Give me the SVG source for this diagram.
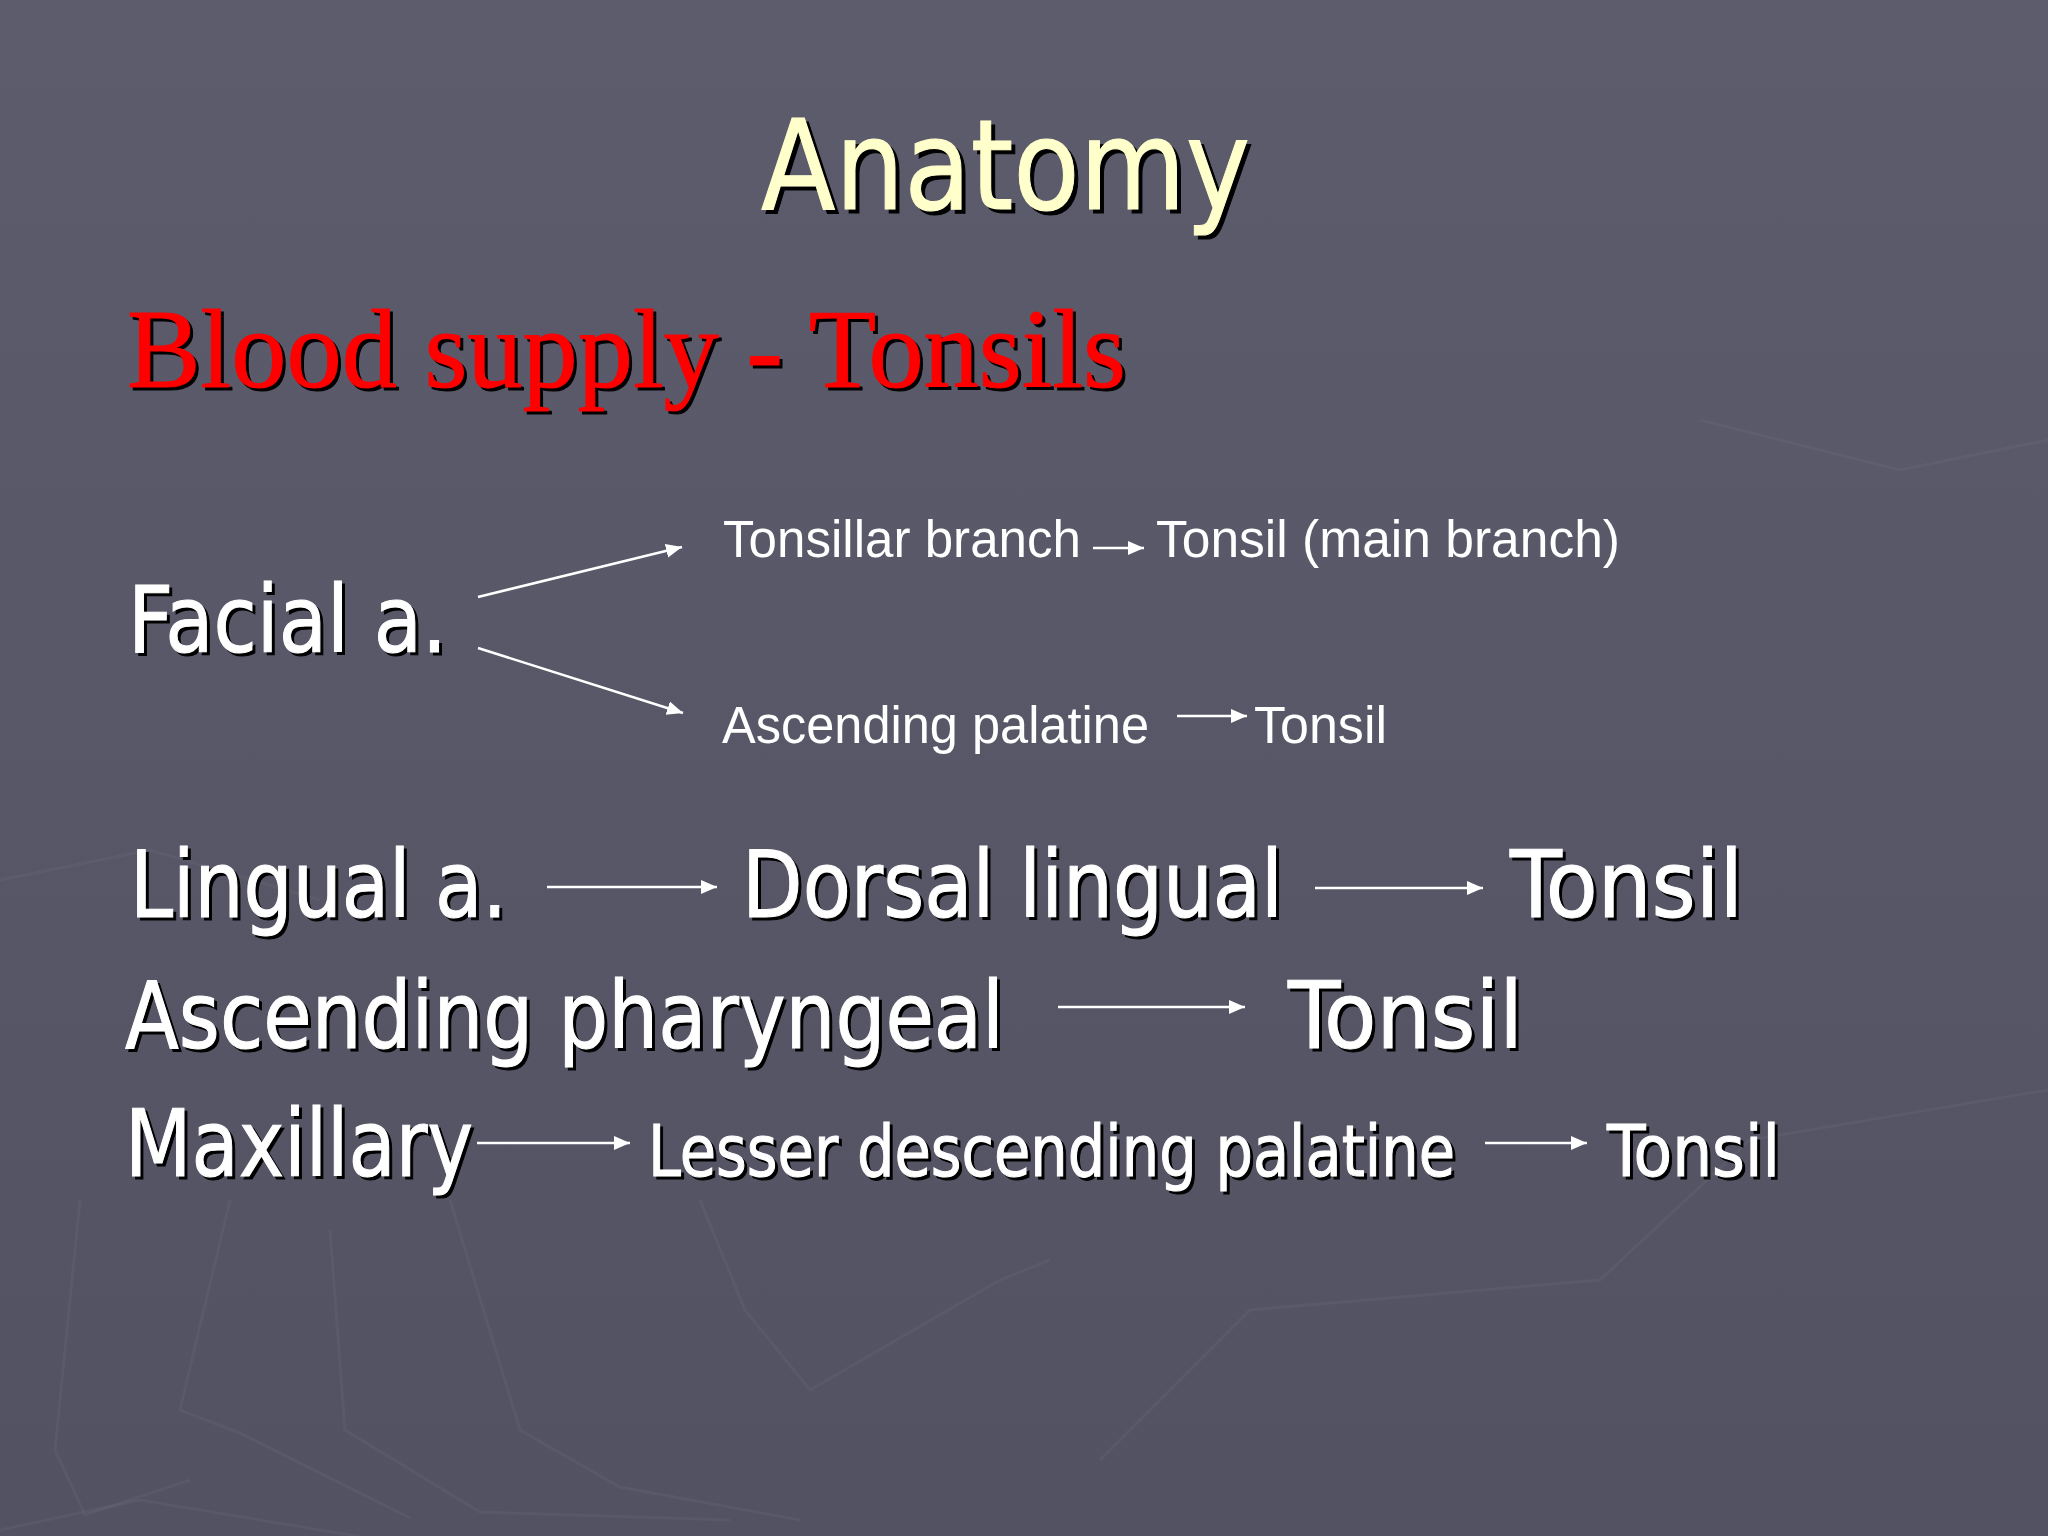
<svg xmlns="http://www.w3.org/2000/svg" width="2048" height="1536" viewBox="0 0 2048 1536">
<style>
.bg{fill:url(#bgGrad)}
.tex{fill:none;stroke:#ffffff;stroke-opacity:0.035;stroke-width:3}
.tah{font-family:"DejaVu Sans Condensed","DejaVu Sans",sans-serif}
.ari{font-family:"Liberation Sans",Arial,sans-serif;fill:#ffffff}
.ser{font-family:"Liberation Serif","Times New Roman",serif}
.big{font-size:92px}
.mid{font-size:71px}
.sh{fill:#000000;stroke:#000000;stroke-width:1}
.wh{fill:#ffffff;stroke:#ffffff;stroke-width:1}
.arr{stroke:#ffffff;stroke-width:2.5;fill:none;marker-end:url(#ah)}
</style>
<defs>
<linearGradient id="bgGrad" x1="0" y1="0" x2="0" y2="1">
<stop offset="0" stop-color="#5c5c6c"/>
<stop offset="1" stop-color="#525263"/>
</linearGradient>
<marker id="ah" markerUnits="userSpaceOnUse" markerWidth="18" markerHeight="16" refX="16" refY="8" orient="auto">
<path d="M0,1 L16,8 L0,15 Z" fill="#ffffff"/>
</marker>
</defs>
<rect class="bg" x="0" y="0" width="2048" height="1536"/>
<g id="texture">
<polyline class="tex" points="0,1530 140,1500 410,1545"/>
<polyline class="tex" points="80,1200 55,1450 85,1515 190,1480"/>
<polyline class="tex" points="230,1200 180,1410 240,1433 410,1518"/>
<polyline class="tex" points="330,1230 345,1430 480,1512 730,1520"/>
<polyline class="tex" points="450,1200 520,1430 620,1487 800,1520"/>
<polyline class="tex" points="700,1200 745,1310 810,1390 1000,1280 1050,1260"/>
<polyline class="tex" points="1100,1460 1250,1310 1600,1280 1750,1140 2048,1090"/>
<polyline class="tex" points="0,880 150,850 320,900"/>
<polyline class="tex" points="1700,420 1900,470 2048,440"/>
</g>
<g id="title">
<text class="tah" x="765" y="213" font-size="125" fill="#000000" stroke="#000000" stroke-width="1" textLength="489" lengthAdjust="spacingAndGlyphs">Anatomy</text>
<text class="tah" x="761" y="209" font-size="125" fill="#ffffcc" stroke="#ffffcc" stroke-width="1" textLength="489" lengthAdjust="spacingAndGlyphs">Anatomy</text>
</g>
<g id="subtitle">
<text class="ser" x="130" y="390" font-size="112" fill="#000000" stroke="#000000" stroke-width="1" textLength="999" lengthAdjust="spacingAndGlyphs">Blood supply - Tonsils</text>
<text class="ser" x="127" y="387" font-size="112" fill="#ff0000" stroke="#ff0000" stroke-width="1" textLength="999" lengthAdjust="spacingAndGlyphs">Blood supply - Tonsils</text>
</g>
<g id="facial">
<text class="tah big sh" x="131" y="655" textLength="319" lengthAdjust="spacingAndGlyphs">Facial a.</text>
<text class="tah big wh" x="128" y="652" textLength="319" lengthAdjust="spacingAndGlyphs">Facial a.</text>
</g>
<g id="tonsillar-branch">
<text class="ari" x="723" y="557" font-size="51" textLength="358" lengthAdjust="spacingAndGlyphs">Tonsillar branch</text>
</g>
<g id="tonsil-main">
<text class="ari" x="1156" y="557" font-size="51" textLength="464" lengthAdjust="spacingAndGlyphs">Tonsil (main branch)</text>
</g>
<g id="ascending-palatine">
<text class="ari" x="722" y="743" font-size="51" textLength="427" lengthAdjust="spacingAndGlyphs">Ascending palatine</text>
</g>
<g id="tonsil-ap">
<text class="ari" x="1254" y="743" font-size="51" textLength="133" lengthAdjust="spacingAndGlyphs">Tonsil</text>
</g>
<g id="lingual">
<text class="tah big sh" x="133" y="920" textLength="377" lengthAdjust="spacingAndGlyphs">Lingual a.</text>
<text class="tah big wh" x="130" y="917" textLength="377" lengthAdjust="spacingAndGlyphs">Lingual a.</text>
</g>
<g id="dorsal-lingual">
<text class="tah big sh" x="745" y="920" textLength="541" lengthAdjust="spacingAndGlyphs">Dorsal lingual</text>
<text class="tah big wh" x="742" y="917" textLength="541" lengthAdjust="spacingAndGlyphs">Dorsal lingual</text>
</g>
<g id="tonsil-dl">
<text class="tah big sh" x="1513" y="920" textLength="233" lengthAdjust="spacingAndGlyphs">Tonsil</text>
<text class="tah big wh" x="1510" y="917" textLength="233" lengthAdjust="spacingAndGlyphs">Tonsil</text>
</g>
<g id="ascending-pharyngeal">
<text class="tah big sh" x="128" y="1051" textLength="879" lengthAdjust="spacingAndGlyphs">Ascending pharyngeal</text>
<text class="tah big wh" x="125" y="1048" textLength="879" lengthAdjust="spacingAndGlyphs">Ascending pharyngeal</text>
</g>
<g id="tonsil-aph">
<text class="tah big sh" x="1291" y="1051" textLength="235" lengthAdjust="spacingAndGlyphs">Tonsil</text>
<text class="tah big wh" x="1288" y="1048" textLength="235" lengthAdjust="spacingAndGlyphs">Tonsil</text>
</g>
<g id="maxillary">
<text class="tah big sh" x="128" y="1179" textLength="348" lengthAdjust="spacingAndGlyphs">Maxillary</text>
<text class="tah big wh" x="125" y="1176" textLength="348" lengthAdjust="spacingAndGlyphs">Maxillary</text>
</g>
<g id="lesser-descending-palatine">
<text class="tah mid sh" x="651" y="1179" textLength="807" lengthAdjust="spacingAndGlyphs">Lesser descending palatine</text>
<text class="tah mid wh" x="648" y="1176" textLength="807" lengthAdjust="spacingAndGlyphs">Lesser descending palatine</text>
</g>
<g id="tonsil-ldp">
<text class="tah mid sh" x="1610" y="1179" textLength="173" lengthAdjust="spacingAndGlyphs">Tonsil</text>
<text class="tah mid wh" x="1607" y="1176" textLength="173" lengthAdjust="spacingAndGlyphs">Tonsil</text>
</g>
<g id="connectors">
<line class="arr" x1="478" y1="597" x2="682" y2="547"/>
<line class="arr" x1="478" y1="648" x2="683" y2="713"/>
<line class="arr" x1="1093" y1="548" x2="1144" y2="548"/>
<line class="arr" x1="1177" y1="716" x2="1247" y2="716"/>
<line class="arr" x1="547" y1="887" x2="717" y2="887"/>
<line class="arr" x1="1315" y1="888" x2="1483" y2="888"/>
<line class="arr" x1="1058" y1="1007" x2="1245" y2="1007"/>
<line class="arr" x1="477" y1="1143" x2="630" y2="1143"/>
<line class="arr" x1="1485" y1="1143" x2="1587" y2="1143"/>
</g>
</svg>
